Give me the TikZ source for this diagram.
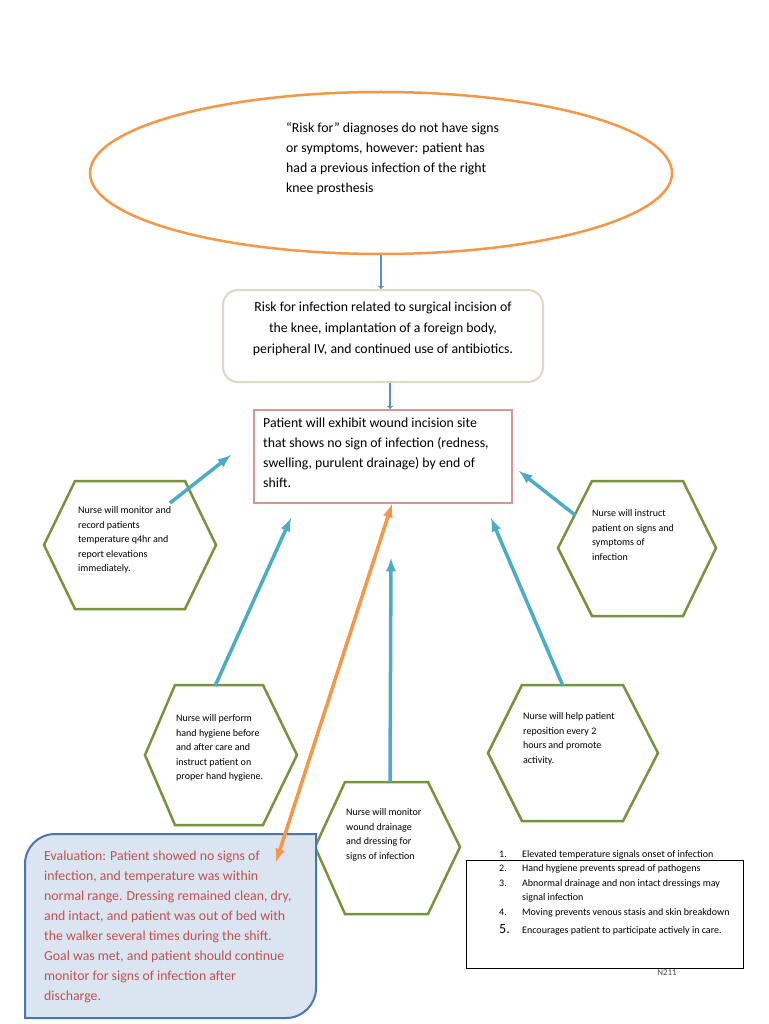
\documentclass[tikz,border=0pt]{standalone}
\usepackage{fontspec}
\setmainfont{Carlito}
\usetikzlibrary{shapes.geometric,arrows}

\begin{document}
\begin{tikzpicture}[x=1pt,y=-1pt,
  bigtext/.style={anchor=west,inner sep=0pt,align=left,font=\fontsize{13.8}{20}\selectfont},
  hextext/.style={anchor=west,inner sep=0pt,align=left,font=\fontsize{10}{14.5}\selectfont},
  hexline/.style={draw=hexcolor,line width=2.5pt,line join=miter},
  careline/.style={draw=carecolor,line width=3.5pt,-latex},
  linkline/.style={draw=linkcolor,line width=1.2pt,->}]
  \definecolor{ovalcolor}{HTML}{F79646}
  \definecolor{linkcolor}{HTML}{5B8CCB}
  \definecolor{diagcolor}{HTML}{DDD9C3}
  \definecolor{goalcolor}{HTML}{D99594}
  \definecolor{hexcolor}{HTML}{77933C}
  \definecolor{carecolor}{HTML}{4BACC6}
  \definecolor{evalfill}{HTML}{DBE5F1}
  \definecolor{evalline}{HTML}{4A75B0}
  \definecolor{evaltext}{HTML}{C0504D}
  \useasboundingbox (0,0) rectangle (768,1024);
  % assessment oval
  \node [draw=ovalcolor,line width=2.5pt,ellipse,minimum width=582pt,minimum height=162pt] (risk) at (381,173) {};
  \node [bigtext] (risktext) at (286,159) {“Risk for” diagnoses do not have signs\\or symptoms, however: patient has\\had a previous infection of the right\\knee prosthesis};
  % diagnosis and goal
  \node [draw=diagcolor,line width=2pt,rounded corners=15pt,fill=white,minimum width=320pt,minimum height=92pt] (diag) at (383,336) {};
  \node [anchor=center,inner sep=0pt,align=center,font=\fontsize{13.8}{21}\selectfont] (diagtext) at (383,329) {Risk for infection related to surgical incision of\\the knee, implantation of a foreign body,\\peripheral IV, and continued use of antibiotics.};
  \node [draw=goalcolor,line width=2pt,fill=white,minimum width=258pt,minimum height=93pt] (goal) at (383,456.5) {};
  \node [bigtext] (goaltext) at (263,453) {Patient will exhibit wound incision site\\that shows no sign of infection (redness,\\swelling, purulent drainage) by end of\\shift.};
  \draw [linkline] (risk.south) -- (risk.south |- diag.north);
  \draw [linkline] ([xshift=7pt]diag.south) -- ([xshift=7pt]diag.south |- goal.north);
  % interventions
  \draw [hexline] (44,545) -- (75,481) -- (185,481) -- (216,545) -- (185,609) -- (75,609) -- cycle;
  \draw [hexline] (558,548) -- (592,481) -- (683,481) -- (716,548) -- (683,616) -- (592,616) -- cycle;
  \draw [hexline] (145,755) -- (175,685) -- (263,685) -- (297,755) -- (263,825) -- (175,825) -- cycle;
  \draw [hexline] (488,753) -- (522,685) -- (623,685) -- (658,753) -- (623,821) -- (522,821) -- cycle;
  \draw [hexline] (315,847) -- (345,782) -- (428,782) -- (460,847) -- (428,914) -- (345,914) -- cycle;
  \node [hextext] (temp) at (78,540) {Nurse will monitor and\\record patients\\temperature q4hr and\\report elevations\\immediately.};
  \node [hextext] (teach) at (592,535) {Nurse will instruct\\patient on signs and\\symptoms of\\infection};
  \node [hextext] (hands) at (176,748) {Nurse will perform\\hand hygiene before\\and after care and\\instruct patient on\\proper hand hygiene.};
  \node [hextext] (turn) at (523,739) {Nurse will help patient\\reposition every 2\\hours and promote\\activity.};
  \node [hextext] (wound) at (346,835) {Nurse will monitor\\wound drainage\\and dressing for\\signs of infection};
  \coordinate (tempend) at (170,503);
  \coordinate (temptip) at (231,455);
  \coordinate (handsend) at (215,686);
  \coordinate (handstip) at (291,518);
  \coordinate (woundend) at (390,782);
  \coordinate (woundtip) at (391,558);
  \coordinate (turnend) at (563,686);
  \coordinate (turntip) at (491,518);
  \coordinate (teachend) at (575,515);
  \coordinate (teachtip) at (519,471);
  \draw [careline] (tempend) -- (temptip);
  \draw [careline] (handsend) -- (handstip);
  \draw [careline] (woundend) -- (woundtip);
  \draw [careline] (turnend) -- (turntip);
  \draw [careline] (teachend) -- (teachtip);
  % evaluation
  \fill [evalfill] (25,1018) -- (25,864) .. controls (25,847.4) and (38.4,834) .. (55,834) -- (316,834) -- (316,988) .. controls (316,1004.6) and (302.6,1018) .. (286,1018) -- cycle;
  \draw [evalline,line width=2pt] (25,1018) -- (25,864) .. controls (25,847.4) and (38.4,834) .. (55,834) -- (316,834) -- (316,988) .. controls (316,1004.6) and (302.6,1018) .. (286,1018) -- cycle;
  \node [bigtext,text=evaltext] (evaltext) at (44,927) {Evaluation: Patient showed no signs of\\infection, and temperature was within\\normal range. Dressing remained clean, dry,\\and intact, and patient was out of bed with\\the walker several times during the shift.\\Goal was met, and patient should continue\\monitor for signs of infection after\\discharge.};
  \coordinate (evaltip) at (276,862);
  \coordinate (goaltip) at (392,504);
  \draw [draw=ovalcolor,line width=3.5pt,latex-latex] (evaltip) -- (goaltip);
  % rationale
  \node [draw=black,line width=1pt,minimum width=277pt,minimum height=108pt] (why) at (604.5,914) {};
  \node [anchor=north west,inner sep=0pt,font=\fontsize{10}{14.5}\selectfont] (whytext) at (499,847) {\begin{tabular}{@{}p{23pt}@{}l@{}}
    1. & Elevated temperature signals onset of infection\\
    2. & Hand hygiene prevents spread of pathogens\\
    3. & Abnormal drainage and non intact dressings may\\
       & signal infection\\
    4. & Moving prevents venous stasis and skin breakdown\\[4pt]
    {\fontsize{14}{14}\selectfont 5.} & Encourages patient to participate actively in care.
  \end{tabular}};
  \node [inner sep=0pt,text=black!70,font=\fontsize{9}{10}\selectfont] (page) at (667,973) {N211};
\end{tikzpicture}
\end{document}
